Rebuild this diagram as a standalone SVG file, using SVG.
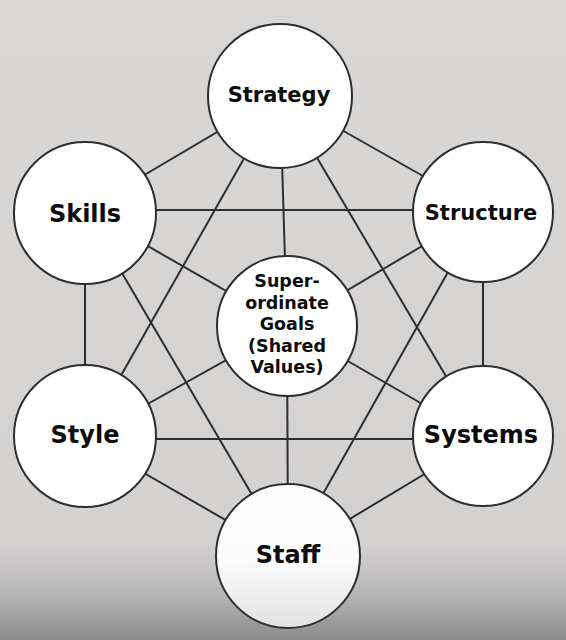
<svg xmlns="http://www.w3.org/2000/svg" width="566" height="640" viewBox="0 0 566 640">
  <defs>
    <linearGradient id="bg" x1="0" y1="0" x2="0" y2="640" gradientUnits="userSpaceOnUse">
      <stop offset="0" stop-color="#d9d6d6"/>
      <stop offset="0.85" stop-color="#d4d1d1"/>
      <stop offset="0.93" stop-color="#b6b5b5"/>
      <stop offset="1" stop-color="#8b8b8b"/>
    </linearGradient>
    <linearGradient id="staffFill" x1="0" y1="484" x2="0" y2="628" gradientUnits="userSpaceOnUse">
      <stop offset="0" stop-color="#ffffff"/>
      <stop offset="0.55" stop-color="#fafafa"/>
      <stop offset="1" stop-color="#e2e2e2"/>
    </linearGradient>
  </defs>
  <style>
    .edge { stroke: #2e2e2e; stroke-width: 2; fill: none; }
    .node { fill: #ffffff; stroke: #2e2e2e; stroke-width: 2; }
    .lbl { font-family: "DejaVu Sans", "Liberation Sans", sans-serif; font-weight: bold; fill: #0d0d0d; text-anchor: middle; }
    .big { font-size: 24px; }
    .mid { font-size: 21px; }
    .small { font-size: 17.5px; }
  </style>
  <rect x="0" y="0" width="566" height="640" fill="url(#bg)"/>
  <g id="connectors">
    <line class="edge" x1="280" y1="95" x2="287" y2="326"/>
    <line class="edge" x1="483" y1="210" x2="287" y2="326"/>
    <line class="edge" x1="483" y1="439" x2="287" y2="326"/>
    <line class="edge" x1="288" y1="556" x2="287" y2="326"/>
    <line class="edge" x1="85" y1="439" x2="287" y2="326"/>
    <line class="edge" x1="85" y1="210" x2="287" y2="326"/>
    <line class="edge" x1="280" y1="95" x2="483" y2="210"/>
    <line class="edge" x1="483" y1="210" x2="483" y2="439"/>
    <line class="edge" x1="483" y1="439" x2="288" y2="556"/>
    <line class="edge" x1="288" y1="556" x2="85" y2="439"/>
    <line class="edge" x1="85" y1="439" x2="85" y2="210"/>
    <line class="edge" x1="85" y1="210" x2="280" y2="95"/>
    <line class="edge" x1="280" y1="95" x2="483" y2="439"/>
    <line class="edge" x1="483" y1="210" x2="288" y2="556"/>
    <line class="edge" x1="483" y1="439" x2="85" y2="439"/>
    <line class="edge" x1="288" y1="556" x2="85" y2="210"/>
    <line class="edge" x1="85" y1="439" x2="280" y2="95"/>
    <line class="edge" x1="85" y1="210" x2="483" y2="210"/>
  </g>
  <g id="strategy">
    <circle class="node" cx="280" cy="96" r="72"/>
    <text class="lbl mid" x="279" y="102">Strategy</text>
  </g>
  <g id="structure">
    <circle class="node" cx="483" cy="212" r="70"/>
    <text class="lbl mid" x="481" y="220">Structure</text>
  </g>
  <g id="systems">
    <circle class="node" cx="483" cy="436" r="70"/>
    <text class="lbl big" x="481" y="443">Systems</text>
  </g>
  <g id="staff">
    <circle class="node" cx="288" cy="556" r="72" style="fill:url(#staffFill)"/>
    <text class="lbl big" x="288" y="563">Staff</text>
  </g>
  <g id="style">
    <circle class="node" cx="85" cy="436" r="71"/>
    <text class="lbl big" x="85" y="443">Style</text>
  </g>
  <g id="skills">
    <circle class="node" cx="85" cy="213" r="71"/>
    <text class="lbl big" x="85" y="222">Skills</text>
  </g>
  <g id="superordinate-goals">
    <circle class="node" cx="287" cy="326" r="70"/>
    <text class="lbl small" x="287" y="287">Super-</text>
    <text class="lbl small" x="287" y="308.5">ordinate</text>
    <text class="lbl small" x="287" y="330">Goals</text>
    <text class="lbl small" x="287" y="351.5">(Shared</text>
    <text class="lbl small" x="287" y="373">Values)</text>
  </g>
</svg>
